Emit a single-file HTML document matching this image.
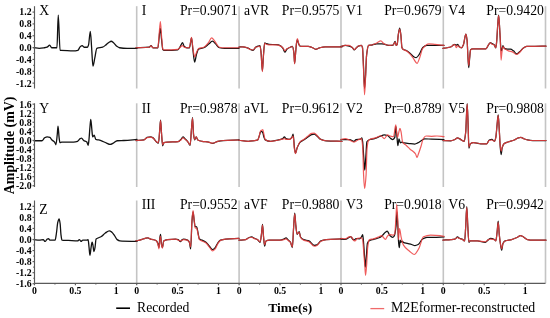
<!DOCTYPE html>
<html><head><meta charset="utf-8"><title>ECG reconstruction</title>
<style>
html,body{margin:0;padding:0;background:#fff;}
body{width:550px;height:318px;overflow:hidden;}
svg{display:block;}
text{font-family:"Liberation Serif","Times New Roman",serif;fill:#000;}
.lab{font-size:13.7px;}
.tk{font-size:9.8px;font-weight:bold;}
.ax{font-size:13.5px;font-weight:bold;}
</style></head><body>
<svg width="550" height="318" viewBox="0 0 550 318">
<rect width="550" height="318" fill="#fff"/>
<g stroke="#c4c4c4" stroke-width="1.6" fill="none">
<line x1="136.7" y1="6.2" x2="136.7" y2="88.5"/>
<line x1="239.1" y1="6.2" x2="239.1" y2="88.5"/>
<line x1="341.0" y1="6.2" x2="341.0" y2="88.5"/>
<line x1="443.3" y1="6.2" x2="443.3" y2="88.5"/>
<line x1="545.5" y1="6.2" x2="545.5" y2="88.5"/>
<line x1="136.7" y1="103.3" x2="136.7" y2="187.0"/>
<line x1="239.1" y1="103.3" x2="239.1" y2="187.0"/>
<line x1="341.0" y1="103.3" x2="341.0" y2="187.0"/>
<line x1="443.3" y1="103.3" x2="443.3" y2="187.0"/>
<line x1="545.5" y1="103.3" x2="545.5" y2="187.0"/>
<line x1="136.7" y1="200.5" x2="136.7" y2="283.3"/>
<line x1="239.1" y1="200.5" x2="239.1" y2="283.3"/>
<line x1="341.0" y1="200.5" x2="341.0" y2="283.3"/>
<line x1="443.3" y1="200.5" x2="443.3" y2="283.3"/>
<line x1="545.5" y1="200.5" x2="545.5" y2="283.3"/>
</g>
<g fill="none" stroke-linejoin="round" stroke-linecap="round">
<path d="M34.00,47.76 C35.74,47.94 37.48,48.28 39.22,48.28 C40.95,48.28 42.69,48.00 44.43,47.76 C45.30,47.64 46.17,47.52 47.04,47.24 C47.91,46.96 48.78,45.15 49.65,45.15 C50.34,45.15 51.04,47.76 51.73,47.76 C52.77,47.76 53.82,47.76 54.86,47.76 C55.56,47.76 56.25,47.76 56.95,47.76 C57.38,47.76 57.82,15.14 58.25,15.14 C58.86,15.14 59.47,50.37 60.08,50.37 C60.51,50.37 60.95,50.37 61.38,50.37 C65.29,50.37 69.20,50.89 73.11,50.89 C74.68,50.89 76.24,50.72 77.81,50.37 C78.68,50.17 79.55,47.02 80.42,46.46 C81.02,46.06 81.63,45.67 82.24,45.67 C82.85,45.67 83.46,47.24 84.07,47.24 C85.20,47.24 86.33,47.24 87.46,47.24 C87.80,47.24 88.15,46.20 88.50,45.15 C89.11,43.32 89.72,31.32 90.32,31.32 C90.76,31.32 91.19,41.99 91.63,47.76 C92.06,53.53 92.50,66.03 92.93,66.03 C93.54,66.03 94.15,60.94 94.76,58.20 C95.45,55.07 96.15,48.57 96.84,48.28 C98.76,47.50 100.67,47.82 102.58,47.24 C103.88,46.84 105.19,45.37 106.49,44.37 C107.36,43.70 108.23,42.81 109.10,42.28 C109.79,41.86 110.49,41.24 111.18,41.24 C111.97,41.24 112.75,42.16 113.53,42.80 C114.57,43.65 115.62,45.44 116.66,46.19 C117.62,46.89 118.57,47.63 119.53,47.76 C122.05,48.11 124.57,48.28 127.09,48.28 C130.39,48.28 133.70,48.28 137.00,48.28" stroke="#111" stroke-width="1.3"/>
<path d="M136.00,47.76 C140.35,47.59 144.69,47.66 149.04,47.24 C149.73,47.17 150.43,45.67 151.12,45.67 C151.73,45.67 152.34,47.76 152.95,47.76 C154.60,47.76 156.25,47.76 157.90,47.76 C158.25,47.76 158.60,42.29 158.95,39.41 C159.38,35.81 159.82,28.19 160.25,28.19 C160.69,28.19 161.12,35.85 161.55,39.41 C161.99,42.97 162.42,49.10 162.86,49.59 C163.29,50.07 163.73,50.37 164.16,50.37 C168.68,50.37 173.20,50.28 177.72,49.85 C178.59,49.77 179.46,47.80 180.33,46.46 C181.02,45.38 181.72,42.54 182.42,42.54 C183.02,42.54 183.63,45.94 184.24,46.46 C185.11,47.19 185.98,47.76 186.85,47.76 C187.72,47.76 188.59,47.76 189.46,47.76 C190.15,47.76 190.85,37.84 191.54,37.84 C191.98,37.84 192.41,45.65 192.85,49.07 C193.45,53.84 194.06,62.12 194.67,62.12 C195.28,62.12 195.89,56.22 196.50,54.29 C197.19,52.08 197.89,49.42 198.58,49.07 C200.32,48.17 202.06,48.41 203.80,47.76 C205.54,47.11 207.27,45.17 209.01,43.85 C210.14,42.99 211.27,41.24 212.40,41.24 C213.45,41.24 214.49,42.90 215.53,43.85 C216.84,45.03 218.14,47.51 219.44,47.76 C221.18,48.09 222.92,48.28 224.66,48.28 C229.44,48.28 234.22,48.28 239.00,48.28" stroke="#111" stroke-width="1.25"/>
<path d="M136.00,47.76 C140.35,47.59 144.69,47.65 149.04,47.24 C149.73,47.17 150.43,45.93 151.12,45.93 C151.73,45.93 152.34,47.76 152.95,47.76 C154.60,47.76 156.25,47.76 157.90,47.76 C158.25,47.76 158.60,40.46 158.95,36.80 C159.42,31.76 159.90,21.66 160.38,21.66 C160.82,21.66 161.25,33.16 161.68,37.84 C162.08,42.06 162.47,48.62 162.86,49.07 C163.29,49.56 163.73,49.85 164.16,49.85 C168.68,49.85 173.20,49.74 177.72,49.33 C178.59,49.25 179.46,47.91 180.33,47.24 C181.02,46.70 181.72,45.67 182.42,45.67 C183.02,45.67 183.63,47.03 184.24,47.24 C185.11,47.53 185.98,47.76 186.85,47.76 C187.72,47.76 188.59,47.58 189.46,47.24 C190.15,46.96 190.85,37.32 191.54,37.32 C191.98,37.32 192.41,45.05 192.85,47.76 C193.45,51.56 194.06,56.90 194.67,56.90 C195.28,56.90 195.89,53.75 196.50,52.46 C197.19,50.98 197.89,48.89 198.58,48.54 C200.32,47.68 202.06,47.94 203.80,47.24 C205.36,46.61 206.93,44.45 208.49,42.54 C209.53,41.27 210.58,37.84 211.62,37.84 C212.66,37.84 213.71,40.02 214.75,41.24 C216.31,43.06 217.88,46.94 219.44,47.24 C221.18,47.57 222.92,47.76 224.66,47.76 C229.44,47.76 234.22,47.76 239.00,47.76" stroke="#ec4040" stroke-opacity="0.85" stroke-width="1.2"/>
<path d="M239.00,47.06 C240.23,47.00 241.47,46.87 242.70,46.87 C244.27,46.87 245.83,47.32 247.40,47.79 C248.34,48.06 249.27,48.88 250.21,49.27 C251.14,49.67 252.07,50.27 253.00,50.27 C253.97,50.27 254.93,47.60 255.90,47.06 C256.83,46.53 257.76,46.31 258.69,45.99 C259.12,45.84 259.56,45.57 259.99,45.57 C260.36,45.57 260.74,49.72 261.11,53.09 C261.54,56.92 261.96,70.99 262.39,70.99 C262.76,70.99 263.12,59.38 263.49,54.99 C263.89,50.19 264.28,42.80 264.68,42.80 C265.19,42.80 265.69,43.52 266.20,43.69 C267.13,44.00 268.06,44.20 268.99,44.29 C271.49,44.53 273.99,44.47 276.50,44.71 C277.73,44.83 278.97,45.09 280.20,45.57 C281.13,45.93 282.06,47.11 282.99,48.39 C283.62,49.26 284.26,52.20 284.89,52.20 C285.53,52.20 286.16,49.87 286.80,49.27 C287.73,48.41 288.66,47.91 289.59,47.47 C290.53,47.04 291.46,46.46 292.40,46.46 C292.91,46.46 293.41,49.40 293.92,53.09 C294.14,54.74 294.37,63.40 294.59,63.40 C294.92,63.40 295.25,56.45 295.58,53.09 C295.96,49.27 296.33,43.66 296.71,41.89 C296.94,40.78 297.18,39.59 297.41,39.59 C297.81,39.59 298.21,42.76 298.61,43.69 C299.04,44.70 299.48,45.84 299.91,45.99 C300.84,46.30 301.77,46.46 302.70,46.46 C304.57,46.46 306.44,46.46 308.31,46.46 C309.54,46.46 310.78,47.05 312.01,47.47 C313.28,47.91 314.55,49.27 315.82,49.27 C317.05,49.27 318.29,48.08 319.52,47.79 C321.39,47.34 323.26,46.87 325.13,46.87 C330.75,46.87 336.38,46.87 342.00,46.87" stroke="#111" stroke-width="1.25"/>
<path d="M239.00,47.06 C240.23,47.00 241.47,46.87 242.70,46.87 C244.27,46.87 245.83,47.30 247.40,47.79 C248.34,48.08 249.27,49.29 250.21,49.54 C251.14,49.78 252.07,50.01 253.00,50.01 C253.97,50.01 254.93,47.37 255.90,47.06 C256.83,46.75 257.76,46.74 258.69,46.51 C259.12,46.40 259.56,46.09 259.99,46.09 C260.36,46.09 260.74,50.23 261.11,53.61 C261.54,57.46 261.96,71.77 262.39,71.77 C262.76,71.77 263.12,59.35 263.49,54.99 C263.89,50.22 264.28,43.32 264.68,43.32 C265.19,43.32 265.69,44.04 266.20,44.21 C267.13,44.52 268.06,44.77 268.99,44.81 C271.49,44.92 273.99,44.86 276.50,44.97 C277.73,45.02 278.97,45.38 280.20,45.83 C281.13,46.17 282.06,46.91 282.99,47.87 C283.62,48.52 284.26,50.89 284.89,50.89 C285.53,50.89 286.16,49.18 286.80,48.75 C287.73,48.13 288.66,47.79 289.59,47.47 C290.53,47.16 291.46,46.72 292.40,46.72 C292.91,46.72 293.41,49.46 293.92,53.09 C294.14,54.71 294.37,63.92 294.59,63.92 C294.92,63.92 295.25,56.62 295.58,53.09 C295.96,49.09 296.33,43.46 296.71,41.37 C296.94,40.05 297.18,38.55 297.41,38.55 C297.81,38.55 298.21,42.06 298.61,43.17 C299.04,44.38 299.48,45.83 299.91,45.99 C300.84,46.31 301.77,46.46 302.70,46.46 C304.57,46.46 306.44,46.46 308.31,46.46 C309.54,46.46 310.78,47.05 312.01,47.47 C313.28,47.91 314.55,49.27 315.82,49.27 C317.05,49.27 318.29,48.08 319.52,47.79 C321.39,47.34 323.26,46.87 325.13,46.87 C330.75,46.87 336.38,46.87 342.00,46.87" stroke="#ec4040" stroke-opacity="0.85" stroke-width="1.2"/>
<path d="M341.00,46.46 C342.36,46.11 343.73,45.41 345.09,45.41 C346.46,45.41 347.82,45.72 349.19,46.04 C350.20,46.28 351.22,46.76 352.24,47.47 C352.92,47.95 353.59,49.93 354.27,49.93 C354.75,49.93 355.23,48.95 355.71,48.49 C356.59,47.64 357.48,46.34 358.37,46.04 C359.39,45.69 360.42,45.41 361.44,45.41 C361.78,45.41 362.12,46.24 362.46,47.47 C362.80,48.71 363.14,59.09 363.48,65.85 C363.82,72.61 364.16,88.48 364.49,88.48 C364.84,88.48 365.19,81.28 365.54,76.08 C365.88,71.01 366.22,58.57 366.55,55.64 C367.23,49.80 367.91,45.59 368.59,45.41 C369.61,45.14 370.64,45.19 371.67,45.02 C373.37,44.74 375.07,43.79 376.78,43.79 C378.48,43.79 380.18,43.79 381.89,43.79 C382.90,43.79 383.92,44.15 384.94,44.39 C385.62,44.56 386.31,44.89 387.00,45.02 C388.01,45.21 389.03,45.41 390.05,45.41 C391.07,45.41 392.10,45.28 393.13,45.02 C393.80,44.85 394.48,41.34 395.16,41.34 C395.50,41.34 395.84,45.41 396.18,45.41 C396.52,45.41 396.85,45.00 397.19,44.39 C397.54,43.77 397.89,37.45 398.24,35.21 C398.71,32.12 399.19,28.06 399.67,28.06 C400.08,28.06 400.49,31.96 400.90,35.21 C401.24,37.90 401.57,46.57 401.91,47.47 C402.39,48.75 402.87,49.23 403.35,49.51 C404.36,50.10 405.38,50.07 406.40,50.53 C407.76,51.15 409.13,52.43 410.49,53.61 C411.51,54.49 412.53,56.10 413.54,56.66 C414.43,57.15 415.32,57.68 416.20,57.68 C417.37,57.68 418.53,55.34 419.70,53.61 C420.71,52.10 421.73,48.32 422.75,47.47 C424.11,46.34 425.48,45.41 426.84,45.41 C432.56,45.41 438.28,45.41 444.00,45.41" stroke="#111" stroke-width="1.25"/>
<path d="M341.00,46.46 C342.36,46.11 343.73,45.41 345.09,45.41 C346.46,45.41 347.82,45.41 349.19,45.41 C350.20,45.41 351.22,46.63 352.24,47.47 C352.92,48.04 353.59,49.59 354.27,49.59 C354.75,49.59 355.23,48.89 355.71,48.49 C356.59,47.76 357.48,46.34 358.37,46.04 C359.39,45.69 360.42,45.41 361.44,45.41 C361.78,45.41 362.12,46.22 362.46,47.47 C362.80,48.72 363.14,60.54 363.48,68.12 C363.83,76.08 364.19,94.74 364.55,94.74 C364.89,94.74 365.24,83.69 365.59,76.99 C365.91,70.80 366.23,58.49 366.55,55.64 C367.23,49.64 367.91,45.59 368.59,45.41 C369.61,45.14 370.64,45.21 371.67,45.02 C373.37,44.71 375.07,43.75 376.78,42.98 C378.13,42.38 379.49,40.92 380.84,40.92 C381.87,40.92 382.90,43.22 383.92,43.79 C384.95,44.37 385.97,44.82 387.00,45.02 C388.01,45.22 389.03,45.41 390.05,45.41 C391.07,45.41 392.10,45.28 393.13,45.02 C393.80,44.85 394.48,42.02 395.16,42.02 C395.50,42.02 395.84,45.41 396.18,45.41 C396.52,45.41 396.85,45.00 397.19,44.39 C397.54,43.77 397.89,37.25 398.24,35.21 C398.71,32.40 399.19,29.07 399.67,29.07 C400.08,29.07 400.49,32.28 400.90,35.21 C401.24,37.64 401.57,46.57 401.91,47.47 C402.39,48.75 402.87,49.16 403.35,49.51 C404.36,50.25 405.38,50.29 406.40,50.89 C407.76,51.70 409.13,53.06 410.49,54.55 C411.51,55.66 412.53,57.34 413.54,58.72 C414.71,60.30 415.87,63.42 417.04,63.42 C417.92,63.42 418.81,59.90 419.70,57.68 C420.71,55.13 421.73,49.82 422.75,48.49 C424.79,45.82 426.83,43.79 428.88,43.79 C430.92,43.79 432.96,44.18 435.00,44.39 C438.00,44.71 441.00,45.07 444.00,45.41" stroke="#ec4040" stroke-opacity="0.85" stroke-width="1.2"/>
<path d="M443.00,48.36 C444.36,48.16 445.73,48.01 447.09,47.76 C448.46,47.51 449.82,47.29 451.19,46.74 C451.87,46.47 452.54,45.51 453.22,45.10 C453.77,44.77 454.32,44.29 454.86,44.29 C455.33,44.29 455.80,45.10 456.27,45.10 C456.75,45.10 457.23,44.29 457.71,44.29 C458.25,44.29 458.80,46.33 459.35,46.74 C460.03,47.26 460.71,47.76 461.38,47.76 C462.07,47.76 462.76,46.29 463.44,44.68 C463.99,43.40 464.54,38.52 465.09,36.51 C465.36,35.52 465.63,34.06 465.89,34.06 C466.30,34.06 466.71,37.01 467.12,40.61 C467.39,42.98 467.66,52.73 467.93,56.95 C468.21,61.30 468.48,67.57 468.76,67.57 C469.03,67.57 469.30,61.62 469.57,58.98 C469.91,55.66 470.25,50.15 470.59,49.80 C471.28,49.08 471.96,48.78 472.65,48.78 C477.07,48.78 481.50,48.78 485.92,48.78 C486.74,48.78 487.56,46.19 488.37,45.10 C489.05,44.19 489.73,42.65 490.41,42.65 C490.95,42.65 491.50,43.36 492.05,43.66 C492.74,44.04 493.42,44.13 494.11,44.68 C494.65,45.11 495.19,47.76 495.73,47.76 C496.00,47.76 496.28,45.00 496.56,42.65 C496.97,39.18 497.38,29.51 497.79,24.27 C498.06,20.81 498.32,15.06 498.59,15.06 C498.86,15.06 499.13,20.59 499.40,24.27 C499.68,28.07 499.96,34.08 500.24,38.55 C500.51,42.88 500.78,50.81 501.05,50.81 C501.31,50.81 501.58,50.30 501.85,49.80 C502.20,49.15 502.55,45.70 502.90,45.70 C503.37,45.70 503.84,48.12 504.30,48.36 C505.33,48.90 506.36,49.20 507.38,49.20 C508.41,49.20 509.43,49.20 510.46,49.20 C511.48,49.20 512.49,50.11 513.51,50.81 C514.54,51.53 515.56,53.89 516.59,53.89 C517.60,53.89 518.62,52.64 519.64,51.83 C521.00,50.74 522.37,48.61 523.73,47.76 C524.76,47.12 525.78,46.33 526.81,46.33 C529.53,46.33 532.25,46.33 534.97,46.33 C538.65,46.33 542.32,46.19 546.00,46.12" stroke="#111" stroke-width="1.25"/>
<path d="M443.00,48.36 C444.36,48.16 445.73,48.01 447.09,47.76 C448.46,47.51 449.82,47.29 451.19,46.74 C451.87,46.47 452.54,45.38 453.22,45.10 C453.77,44.87 454.32,44.63 454.86,44.63 C455.33,44.63 455.80,47.76 456.27,47.76 C456.75,47.76 457.23,45.70 457.71,45.70 C458.25,45.70 458.80,46.69 459.35,46.98 C460.03,47.33 460.71,47.76 461.38,47.76 C462.07,47.76 462.76,46.29 463.44,44.68 C463.99,43.40 464.54,38.52 465.09,36.51 C465.36,35.52 465.63,34.06 465.89,34.06 C466.30,34.06 466.71,37.01 467.12,40.61 C467.39,42.98 467.66,53.27 467.93,56.95 C468.21,60.74 468.48,65.51 468.76,65.51 C469.03,65.51 469.30,60.53 469.57,58.20 C469.91,55.27 470.25,50.15 470.59,49.80 C471.28,49.09 471.96,48.78 472.65,48.78 C477.07,48.78 481.50,48.78 485.92,48.78 C486.74,48.78 487.56,45.81 488.37,44.84 C489.05,44.03 489.73,42.91 490.41,42.91 C490.95,42.91 491.50,43.91 492.05,44.19 C492.74,44.53 493.42,44.51 494.11,44.94 C494.65,45.28 495.19,47.76 495.73,47.76 C496.00,47.76 496.28,45.00 496.56,42.65 C496.97,39.18 497.38,29.30 497.79,24.27 C498.06,20.95 498.32,15.66 498.59,15.66 C498.86,15.66 499.13,20.74 499.40,24.27 C499.68,27.92 499.96,32.75 500.24,38.55 C500.51,44.16 500.78,60.03 501.05,60.03 C501.31,60.03 501.58,54.77 501.85,52.85 C502.20,50.37 502.55,46.72 502.90,46.72 C503.37,46.72 503.84,47.97 504.30,48.36 C505.67,49.50 507.03,50.34 508.40,50.81 C509.76,51.29 511.13,51.34 512.49,51.83 C513.86,52.32 515.22,54.49 516.59,54.49 C517.60,54.49 518.62,53.31 519.64,52.46 C521.00,51.32 522.37,48.65 523.73,47.76 C524.76,47.09 525.78,46.33 526.81,46.33 C529.53,46.33 532.25,46.33 534.97,46.33 C538.65,46.33 542.32,46.19 546.00,46.12" stroke="#ec4040" stroke-opacity="0.85" stroke-width="1.2"/>
<path d="M34.00,140.77 C36.64,140.77 39.28,140.77 41.92,140.77 C42.80,140.77 43.68,138.38 44.56,137.87 C45.44,137.35 46.32,136.81 47.21,136.81 C48.09,136.81 48.97,137.03 49.85,137.34 C50.55,137.59 51.25,139.29 51.96,139.98 C52.84,140.85 53.72,141.04 54.60,142.09 C55.04,142.62 55.48,144.74 55.92,144.74 C56.36,144.74 56.80,138.66 57.24,134.70 C57.51,132.32 57.77,126.25 58.03,126.25 C58.39,126.25 58.74,134.50 59.09,137.34 C59.35,139.47 59.62,142.62 59.88,142.62 C60.50,142.62 61.11,142.09 61.73,142.09 C65.69,142.09 69.65,142.09 73.62,142.09 C74.94,142.09 76.26,141.76 77.58,141.30 C78.46,140.99 79.34,139.14 80.22,138.66 C80.66,138.42 81.10,138.13 81.54,138.13 C82.24,138.13 82.95,140.01 83.65,140.51 C84.71,141.26 85.76,141.13 86.82,142.09 C87.26,142.49 87.70,145.26 88.14,145.26 C88.41,145.26 88.67,142.25 88.93,139.98 C89.29,136.96 89.64,130.51 89.99,126.77 C90.25,123.97 90.52,119.38 90.78,119.38 C91.13,119.38 91.49,126.10 91.84,129.42 C92.10,131.90 92.37,136.81 92.63,136.81 C93.16,136.81 93.69,135.23 94.22,135.23 C94.74,135.23 95.27,139.26 95.80,139.45 C96.77,139.81 97.74,139.76 98.71,139.98 C100.03,140.29 101.35,140.79 102.67,141.30 C103.99,141.82 105.31,142.60 106.63,143.15 C107.77,143.63 108.92,144.47 110.06,144.47 C111.12,144.47 112.17,143.67 113.23,143.15 C114.55,142.51 115.87,140.88 117.19,140.77 C119.39,140.60 121.59,140.62 123.79,140.51 C128.20,140.28 132.60,139.81 137.00,139.45" stroke="#111" stroke-width="1.3"/>
<path d="M136.00,140.51 C138.64,140.33 141.28,140.35 143.92,139.98 C144.98,139.83 146.04,137.62 147.09,137.34 C148.24,137.04 149.38,136.81 150.53,136.81 C151.41,136.81 152.29,137.33 153.17,137.87 C154.05,138.41 154.93,140.50 155.81,141.30 C156.69,142.10 157.57,143.15 158.45,143.15 C158.89,143.15 159.33,134.28 159.77,129.42 C160.03,126.50 160.30,120.17 160.56,120.17 C160.91,120.17 161.27,130.50 161.62,134.70 C161.97,138.89 162.32,145.79 162.67,145.79 C163.11,145.79 163.55,142.76 163.99,142.62 C165.23,142.24 166.46,142.19 167.69,142.09 C171.21,141.81 174.74,141.97 178.26,141.57 C179.14,141.47 180.02,140.32 180.90,139.45 C181.60,138.76 182.31,136.81 183.01,136.81 C183.63,136.81 184.24,138.04 184.86,138.66 C185.74,139.54 186.62,140.25 187.50,141.30 C188.38,142.36 189.26,145.26 190.14,145.26 C190.58,145.26 191.02,134.52 191.46,129.42 C191.81,125.33 192.17,117.53 192.52,117.53 C192.87,117.53 193.22,132.00 193.57,134.70 C193.93,137.39 194.28,139.98 194.63,139.98 C195.16,139.98 195.69,136.81 196.22,136.81 C196.74,136.81 197.27,139.66 197.80,139.98 C199.21,140.84 200.62,141.05 202.03,141.30 C204.23,141.70 206.43,141.69 208.63,142.09 C209.95,142.34 211.27,143.42 212.59,143.42 C214.35,143.42 216.11,141.69 217.87,141.30 C219.63,140.92 221.39,140.62 223.15,140.51 C228.44,140.19 233.72,140.16 239.00,139.98" stroke="#111" stroke-width="1.25"/>
<path d="M136.00,140.51 C138.64,140.33 141.28,140.35 143.92,139.98 C144.98,139.83 146.04,137.88 147.09,137.60 C148.24,137.31 149.38,137.08 150.53,137.08 C151.41,137.08 152.29,137.60 153.17,138.13 C154.05,138.66 154.93,140.68 155.81,141.30 C156.69,141.92 157.57,142.62 158.45,142.62 C158.89,142.62 159.33,134.05 159.77,129.42 C160.03,126.64 160.30,120.70 160.56,120.70 C160.91,120.70 161.27,130.80 161.62,134.70 C161.97,138.60 162.32,144.74 162.67,144.74 C163.11,144.74 163.55,142.76 163.99,142.62 C165.23,142.25 166.46,142.19 167.69,142.09 C171.21,141.81 174.74,141.96 178.26,141.57 C179.14,141.47 180.02,140.65 180.90,139.98 C181.60,139.45 182.31,137.87 183.01,137.87 C183.63,137.87 184.24,138.73 184.86,139.19 C185.74,139.85 186.62,140.43 187.50,141.30 C188.38,142.17 189.26,144.74 190.14,144.74 C190.58,144.74 191.02,134.32 191.46,129.42 C191.81,125.49 192.17,118.06 192.52,118.06 C192.87,118.06 193.22,132.23 193.57,134.70 C193.93,137.16 194.28,139.45 194.63,139.45 C195.16,139.45 195.69,136.81 196.22,136.81 C196.74,136.81 197.27,139.66 197.80,139.98 C199.21,140.84 200.62,141.05 202.03,141.30 C204.23,141.70 206.43,141.72 208.63,142.09 C209.95,142.32 211.27,143.15 212.59,143.15 C214.35,143.15 216.11,141.67 217.87,141.30 C219.63,140.93 221.39,140.62 223.15,140.51 C228.44,140.19 233.72,140.16 239.00,139.98" stroke="#ec4040" stroke-opacity="0.85" stroke-width="1.2"/>
<path d="M239.00,140.25 C242.08,140.60 245.16,141.30 248.24,141.30 C249.83,141.30 251.41,141.00 253.00,140.77 C254.58,140.55 256.17,140.52 257.75,139.85 C258.24,139.64 258.74,137.49 259.23,136.10 C259.66,134.88 260.09,132.30 260.52,131.98 C260.96,131.65 261.40,131.42 261.84,131.42 C262.22,131.42 262.60,132.38 262.98,133.27 C263.29,134.00 263.60,136.14 263.90,137.02 C264.35,138.28 264.79,139.60 265.23,139.85 C267.05,140.87 268.87,141.30 270.69,141.30 C273.33,141.30 275.97,140.59 278.62,139.98 C279.94,139.68 281.26,139.36 282.58,138.66 C283.19,138.33 283.81,136.81 284.43,136.81 C284.95,136.81 285.48,138.43 286.01,138.66 C287.07,139.13 288.12,139.45 289.18,139.45 C290.06,139.45 290.94,138.46 291.82,137.34 C292.26,136.78 292.70,134.17 293.14,134.17 C293.58,134.17 294.02,144.97 294.46,147.91 C294.81,150.25 295.17,153.19 295.52,153.19 C296.05,153.19 296.57,149.20 297.10,147.91 C298.16,145.32 299.22,143.07 300.27,142.09 C301.42,141.03 302.56,140.71 303.71,139.98 C305.03,139.14 306.35,138.22 307.67,137.34 C308.99,136.46 310.31,135.09 311.63,134.70 C312.51,134.44 313.39,134.17 314.27,134.17 C315.15,134.17 316.03,135.34 316.91,136.02 C318.23,137.03 319.55,138.93 320.87,139.45 C322.63,140.15 324.39,140.65 326.15,140.77 C331.44,141.13 336.72,141.13 342.00,141.30" stroke="#111" stroke-width="1.25"/>
<path d="M239.00,140.25 C242.08,140.60 245.16,141.30 248.24,141.30 C249.83,141.30 251.41,141.00 253.00,140.77 C254.58,140.55 256.17,140.52 257.75,139.85 C258.24,139.64 258.74,137.65 259.23,136.10 C259.66,134.74 260.09,131.21 260.52,130.84 C260.96,130.46 261.40,130.46 261.84,130.21 C262.15,130.03 262.46,129.55 262.77,129.55 C263.15,129.55 263.53,132.64 263.90,134.22 C264.35,136.07 264.79,139.58 265.23,139.85 C267.05,140.96 268.87,141.30 270.69,141.30 C273.33,141.30 275.97,140.47 278.62,139.98 C279.94,139.74 281.26,139.51 282.58,139.19 C283.19,139.04 283.81,138.66 284.43,138.66 C284.95,138.66 285.48,139.45 286.01,139.45 C287.07,139.45 288.12,139.45 289.18,139.45 C290.06,139.45 290.94,138.64 291.82,137.87 C292.26,137.48 292.70,136.02 293.14,136.02 C293.58,136.02 294.02,146.64 294.46,149.23 C294.81,151.30 295.17,153.72 295.52,153.72 C296.05,153.72 296.57,149.32 297.10,147.91 C298.16,145.08 299.22,142.57 300.27,141.57 C301.42,140.48 302.56,140.25 303.71,139.45 C305.03,138.54 306.35,137.29 307.67,136.28 C308.99,135.27 310.31,133.60 311.63,133.38 C312.51,133.23 313.39,133.11 314.27,133.11 C315.15,133.11 316.03,134.43 316.91,135.23 C318.23,136.42 319.55,138.90 320.87,139.45 C322.63,140.19 324.39,140.65 326.15,140.77 C331.44,141.13 336.72,141.13 342.00,141.30" stroke="#ec4040" stroke-opacity="0.85" stroke-width="1.2"/>
<path d="M341.00,139.72 C343.91,139.72 346.81,139.72 349.72,139.72 C351.12,139.72 352.53,141.30 353.94,141.30 C354.65,141.30 355.35,139.88 356.05,139.72 C357.46,139.39 358.87,139.53 360.28,139.19 C360.81,139.06 361.34,137.87 361.86,137.87 C362.13,137.87 362.39,139.92 362.66,141.83 C363.01,144.38 363.36,152.20 363.71,156.89 C364.06,161.58 364.42,170.09 364.77,170.09 C365.12,170.09 365.47,161.58 365.83,156.89 C366.18,152.20 366.53,142.49 366.88,141.83 C367.67,140.33 368.47,140.00 369.26,139.72 C371.02,139.09 372.78,139.14 374.54,138.66 C376.39,138.16 378.24,136.95 380.09,136.28 C381.50,135.78 382.90,134.96 384.31,134.96 C385.37,134.96 386.43,135.19 387.48,135.49 C388.63,135.81 389.77,137.98 390.92,138.66 C391.53,139.02 392.15,139.51 392.76,139.51 C393.44,139.51 394.12,138.81 394.80,137.39 C395.13,136.69 395.47,126.30 395.80,126.30 C396.16,126.30 396.52,132.63 396.88,135.99 C397.22,139.11 397.55,145.71 397.89,145.71 C398.26,145.71 398.63,138.79 399.00,138.79 C399.46,138.79 399.93,142.91 400.40,142.91 C400.86,142.91 401.33,142.20 401.80,142.20 C402.49,142.20 403.19,142.78 403.88,142.91 C405.72,143.27 407.56,143.43 409.40,143.60 C411.23,143.77 413.06,144.00 414.90,144.00 C415.83,144.00 416.76,143.36 417.70,142.91 C419.10,142.25 420.49,140.99 421.89,140.19 C422.79,139.68 423.69,138.79 424.59,138.79 C426.92,138.79 429.25,139.10 431.59,139.19 C435.72,139.34 439.86,139.40 444.00,139.51" stroke="#111" stroke-width="1.25"/>
<path d="M341.00,139.35 C342.41,139.12 343.82,138.66 345.23,138.66 C346.72,138.66 348.22,139.66 349.72,140.25 C351.12,140.80 352.53,142.09 353.94,142.09 C355.44,142.09 356.93,140.32 358.43,139.72 C359.49,139.29 360.54,138.66 361.60,138.66 C362.00,138.66 362.39,143.48 362.79,149.23 C363.05,153.05 363.32,169.85 363.58,174.85 C363.93,181.52 364.29,188.58 364.64,188.58 C365.12,188.58 365.61,181.93 366.09,174.85 C366.40,170.34 366.71,152.63 367.01,149.23 C367.41,144.86 367.81,142.26 368.20,141.30 C368.55,140.45 368.91,139.92 369.26,139.72 C371.37,138.49 373.48,138.58 375.60,137.87 C377.36,137.27 379.12,135.75 380.88,135.75 C382.02,135.75 383.17,138.66 384.31,138.66 C385.37,138.66 386.43,134.96 387.48,134.96 C388.32,134.96 389.15,135.79 389.99,136.02 C391.16,136.34 392.33,136.71 393.50,136.71 C394.27,136.71 395.04,124.90 395.80,124.90 C396.16,124.90 396.52,132.67 396.88,134.59 C397.12,135.86 397.36,137.39 397.60,137.39 C397.93,137.39 398.27,134.46 398.60,133.19 C399.07,131.43 399.53,128.41 400.00,128.41 C400.36,128.41 400.72,130.34 401.08,131.90 C401.55,133.91 402.02,140.37 402.48,141.51 C402.95,142.66 403.42,143.11 403.88,143.60 C404.79,144.56 405.70,144.92 406.60,145.71 C407.77,146.72 408.93,148.24 410.09,149.20 C411.02,149.97 411.96,150.41 412.89,151.21 C413.79,151.97 414.68,152.63 415.58,154.01 C416.05,154.72 416.52,157.49 416.98,157.49 C417.45,157.49 417.92,155.26 418.38,154.01 C419.32,151.51 420.25,148.70 421.18,145.71 C421.85,143.57 422.52,139.85 423.19,138.79 C424.12,137.31 425.06,136.02 425.99,136.02 C427.85,136.02 429.72,136.28 431.59,136.28 C433.39,136.28 435.20,136.02 437.00,136.02 C439.33,136.02 441.67,136.48 444.00,136.71" stroke="#ec4040" stroke-opacity="0.85" stroke-width="1.2"/>
<path d="M443.00,140.51 C445.64,140.60 448.28,140.77 450.92,140.77 C452.24,140.77 453.56,140.03 454.88,139.45 C455.76,139.07 456.65,137.87 457.53,137.87 C458.14,137.87 458.76,138.35 459.37,138.66 C460.08,139.02 460.78,139.59 461.49,139.98 C462.37,140.47 463.25,141.30 464.13,141.30 C464.66,141.30 465.18,136.85 465.71,132.06 C466.20,127.67 466.68,103.53 467.17,103.53 C467.47,103.53 467.78,116.18 468.09,124.13 C468.35,130.95 468.62,148.17 468.88,148.17 C469.32,148.17 469.76,144.31 470.20,143.94 C471.26,143.07 472.32,142.62 473.37,142.62 C476.45,142.62 479.53,143.94 482.62,143.94 C483.94,143.94 485.26,143.94 486.58,143.94 C487.46,143.94 488.34,140.29 489.22,139.98 C490.10,139.67 490.98,139.45 491.86,139.45 C492.74,139.45 493.62,141.30 494.50,141.30 C494.94,141.30 495.38,139.37 495.82,137.34 C496.26,135.31 496.70,128.23 497.14,124.13 C497.49,120.85 497.85,114.89 498.20,114.89 C498.55,114.89 498.90,123.99 499.25,129.42 C499.61,134.84 499.96,144.00 500.31,147.91 C500.57,150.84 500.84,154.51 501.10,154.51 C501.45,154.51 501.81,149.20 502.16,147.91 C502.69,145.96 503.22,144.40 503.74,143.94 C505.06,142.79 506.38,142.60 507.71,142.09 C509.91,141.25 512.11,140.88 514.31,139.98 C515.63,139.44 516.95,138.24 518.27,137.87 C519.15,137.62 520.03,137.34 520.91,137.34 C521.79,137.34 522.67,138.30 523.55,138.66 C524.87,139.20 526.19,139.77 527.51,139.98 C529.27,140.26 531.03,140.51 532.79,140.51 C537.20,140.51 541.60,140.51 546.00,140.51" stroke="#111" stroke-width="1.25"/>
<path d="M443.00,140.51 C445.64,140.60 448.28,140.77 450.92,140.77 C452.24,140.77 453.56,140.03 454.88,139.45 C455.76,139.07 456.65,137.87 457.53,137.87 C458.14,137.87 458.76,138.35 459.37,138.66 C460.08,139.02 460.78,139.59 461.49,139.98 C462.37,140.47 463.25,141.30 464.13,141.30 C464.66,141.30 465.18,136.83 465.71,132.06 C466.20,127.69 466.68,104.06 467.17,104.06 C467.47,104.06 467.78,116.49 468.09,124.13 C468.35,130.68 468.62,146.85 468.88,146.85 C469.32,146.85 469.76,144.28 470.20,143.94 C471.26,143.13 472.32,142.62 473.37,142.62 C476.45,142.62 479.53,143.94 482.62,143.94 C483.94,143.94 485.26,143.94 486.58,143.94 C487.46,143.94 488.34,140.81 489.22,140.51 C490.10,140.20 490.98,139.98 491.86,139.98 C492.74,139.98 493.62,141.30 494.50,141.30 C494.94,141.30 495.38,139.37 495.82,137.34 C496.26,135.31 496.70,128.03 497.14,124.13 C497.49,121.01 497.85,115.68 498.20,115.68 C498.55,115.68 498.90,124.33 499.25,129.42 C499.61,134.50 499.96,143.69 500.31,146.58 C500.57,148.75 500.84,151.08 501.10,151.08 C501.45,151.08 501.81,148.34 502.16,147.38 C502.69,145.94 503.22,144.39 503.74,143.94 C505.06,142.83 506.38,142.60 507.71,142.09 C509.91,141.25 512.11,140.88 514.31,139.98 C515.63,139.44 516.95,138.24 518.27,137.87 C519.15,137.62 520.03,137.34 520.91,137.34 C521.79,137.34 522.67,138.30 523.55,138.66 C524.87,139.20 526.19,139.77 527.51,139.98 C529.27,140.26 531.03,140.51 532.79,140.51 C537.20,140.51 541.60,140.51 546.00,140.51" stroke="#ec4040" stroke-opacity="0.85" stroke-width="1.2"/>
<path d="M34.00,239.62 C35.76,239.80 37.52,240.15 39.28,240.15 C40.60,240.15 41.92,239.62 43.24,239.62 C43.86,239.62 44.48,241.47 45.09,241.47 C45.80,241.47 46.50,239.50 47.21,239.09 C47.65,238.84 48.09,238.57 48.53,238.57 C48.97,238.57 49.41,240.15 49.85,240.15 C51.61,240.15 53.37,240.15 55.13,240.15 C55.57,240.15 56.01,235.86 56.45,233.02 C56.89,230.18 57.33,224.18 57.77,222.45 C58.21,220.73 58.65,219.02 59.09,219.02 C59.44,219.02 59.79,221.35 60.15,223.77 C60.41,225.59 60.67,232.24 60.94,234.34 C61.29,237.14 61.64,240.11 61.99,240.15 C64.11,240.38 66.22,240.31 68.33,240.42 C71.41,240.56 74.50,240.94 77.58,240.94 C78.19,240.94 78.81,239.62 79.43,239.62 C79.95,239.62 80.48,241.47 81.01,241.47 C81.63,241.47 82.24,240.15 82.86,240.15 C84.18,240.15 85.50,240.15 86.82,240.15 C87.26,240.15 87.70,239.62 88.14,239.62 C88.41,239.62 88.67,243.97 88.93,246.23 C89.29,249.23 89.64,255.47 89.99,255.47 C90.34,255.47 90.69,249.66 91.05,247.55 C91.40,245.43 91.75,242.26 92.10,242.26 C92.37,242.26 92.63,243.77 92.89,244.91 C93.25,246.42 93.60,251.51 93.95,251.51 C94.30,251.51 94.66,249.35 95.01,247.55 C95.36,245.75 95.71,239.50 96.06,239.09 C96.50,238.59 96.94,238.54 97.38,238.30 C98.71,237.59 100.03,237.25 101.35,236.45 C102.67,235.65 103.99,233.89 105.31,233.02 C106.63,232.15 107.95,230.91 109.27,230.91 C110.15,230.91 111.03,231.59 111.91,232.23 C112.79,232.86 113.67,234.43 114.55,235.66 C115.43,236.89 116.31,238.96 117.19,239.62 C118.07,240.28 118.95,240.88 119.83,240.94 C125.56,241.37 131.28,241.30 137.00,241.47" stroke="#111" stroke-width="1.3"/>
<path d="M136.00,240.94 C137.76,240.50 139.52,240.13 141.28,239.62 C142.60,239.24 143.92,238.63 145.24,238.30 C146.12,238.09 147.00,237.77 147.88,237.77 C148.76,237.77 149.65,238.84 150.53,239.09 C151.41,239.35 152.29,239.39 153.17,239.62 C154.31,239.92 155.46,240.12 156.60,240.94 C157.04,241.26 157.48,242.42 157.92,243.58 C158.27,244.51 158.62,247.55 158.98,247.55 C159.24,247.55 159.51,240.15 159.77,238.30 C160.03,236.45 160.30,234.34 160.56,234.34 C160.83,234.34 161.09,242.05 161.35,243.58 C161.71,245.63 162.06,247.55 162.41,247.55 C162.85,247.55 163.29,241.27 163.73,240.94 C165.05,239.98 166.37,239.78 167.69,239.62 C170.33,239.31 172.97,239.09 175.62,239.09 C176.50,239.09 177.38,239.32 178.26,239.62 C178.96,239.86 179.66,241.74 180.37,241.74 C180.99,241.74 181.60,239.98 182.22,239.62 C182.66,239.37 183.10,239.09 183.54,239.09 C184.86,239.09 186.18,239.53 187.50,240.15 C188.12,240.44 188.73,241.08 189.35,242.26 C189.79,243.11 190.23,248.87 190.67,248.87 C191.11,248.87 191.55,226.49 191.99,221.13 C192.34,216.85 192.69,211.89 193.05,211.89 C193.40,211.89 193.75,217.41 194.10,219.81 C194.45,222.21 194.81,226.18 195.16,226.42 C195.69,226.77 196.22,226.61 196.74,226.94 C197.18,227.22 197.62,230.99 198.06,233.02 C198.50,235.04 198.94,238.74 199.38,239.09 C200.26,239.81 201.15,239.75 202.03,240.15 C203.35,240.75 204.67,241.29 205.99,242.26 C207.13,243.11 208.28,244.95 209.42,246.23 C210.48,247.41 211.53,249.66 212.59,249.66 C213.47,249.66 214.35,248.52 215.23,247.55 C216.11,246.57 216.99,243.92 217.87,242.79 C218.75,241.66 219.63,240.47 220.51,240.15 C222.27,239.52 224.03,239.27 225.79,239.09 C230.20,238.65 234.60,238.57 239.00,238.30" stroke="#111" stroke-width="1.25"/>
<path d="M136.00,240.94 C137.76,240.50 139.52,240.13 141.28,239.62 C142.60,239.24 143.92,238.63 145.24,238.30 C146.12,238.09 147.00,237.77 147.88,237.77 C148.76,237.77 149.65,238.84 150.53,239.09 C151.41,239.35 152.29,239.39 153.17,239.62 C154.31,239.92 155.46,240.08 156.60,240.94 C157.04,241.27 157.48,242.94 157.92,244.38 C158.27,245.52 158.62,248.87 158.98,248.87 C159.24,248.87 159.51,241.20 159.77,239.62 C160.03,238.05 160.30,236.45 160.56,236.45 C160.83,236.45 161.09,242.98 161.35,244.38 C161.71,246.25 162.06,248.08 162.41,248.08 C162.85,248.08 163.29,241.27 163.73,240.94 C165.05,239.97 166.37,239.78 167.69,239.62 C170.33,239.31 172.97,239.09 175.62,239.09 C176.50,239.09 177.38,239.81 178.26,240.15 C178.96,240.42 179.66,240.94 180.37,240.94 C180.99,240.94 181.60,240.41 182.22,240.15 C182.66,239.97 183.10,239.62 183.54,239.62 C184.86,239.62 186.18,239.80 187.50,240.15 C188.12,240.31 188.73,241.16 189.35,242.26 C189.79,243.05 190.23,247.02 190.67,247.02 C191.11,247.02 191.55,225.14 191.99,219.81 C192.34,215.55 192.69,210.57 193.05,210.57 C193.40,210.57 193.75,216.97 194.10,219.81 C194.45,222.66 194.81,227.39 195.16,227.74 C195.69,228.26 196.22,228.05 196.74,228.53 C197.18,228.93 197.62,231.97 198.06,233.81 C198.50,235.66 198.94,239.19 199.38,239.62 C200.26,240.49 201.15,240.49 202.03,240.94 C203.35,241.62 204.67,242.08 205.99,243.06 C207.13,243.90 208.28,245.64 209.42,247.02 C210.48,248.29 211.53,250.98 212.59,250.98 C213.47,250.98 214.35,249.87 215.23,248.87 C216.11,247.86 216.99,244.91 217.87,243.58 C218.75,242.26 219.63,240.81 220.51,240.42 C222.27,239.63 224.03,239.28 225.79,239.09 C230.20,238.63 234.60,238.57 239.00,238.30" stroke="#ec4040" stroke-opacity="0.85" stroke-width="1.2"/>
<path d="M239.00,240.15 C241.20,239.97 243.40,239.96 245.60,239.62 C246.75,239.45 247.89,237.85 249.04,237.51 C249.92,237.25 250.80,236.98 251.68,236.98 C252.56,236.98 253.44,237.90 254.32,238.30 C255.37,238.78 256.43,238.99 257.49,239.62 C258.37,240.15 259.25,242.26 260.13,242.26 C260.57,242.26 261.01,237.60 261.45,234.34 C261.80,231.73 262.15,224.30 262.51,224.30 C262.86,224.30 263.21,233.42 263.56,236.98 C263.91,240.55 264.27,246.23 264.62,246.23 C265.06,246.23 265.50,241.16 265.94,240.94 C267.08,240.37 268.23,240.15 269.37,240.15 C272.89,240.15 276.41,240.15 279.94,240.15 C281.26,240.15 282.58,239.61 283.90,239.09 C284.60,238.82 285.31,237.77 286.01,237.77 C286.63,237.77 287.24,239.01 287.86,239.62 C288.74,240.50 289.62,240.92 290.50,242.26 C291.12,243.20 291.73,247.55 292.35,247.55 C292.79,247.55 293.23,232.57 293.67,226.42 C294.02,221.49 294.37,213.21 294.73,213.21 C295.08,213.21 295.43,222.03 295.78,225.09 C296.22,228.93 296.66,234.34 297.10,234.34 C297.81,234.34 298.51,231.70 299.22,231.70 C299.66,231.70 300.10,236.31 300.54,236.98 C301.59,238.58 302.65,239.20 303.71,239.62 C305.47,240.33 307.23,240.26 308.99,240.94 C310.75,241.62 312.51,245.43 314.27,245.43 C315.15,245.43 316.03,245.19 316.91,244.91 C318.23,244.48 319.55,241.49 320.87,240.94 C322.63,240.22 324.39,239.79 326.15,239.62 C331.44,239.13 336.72,239.09 342.00,238.83" stroke="#111" stroke-width="1.25"/>
<path d="M239.00,240.15 C241.20,239.97 243.40,239.96 245.60,239.62 C246.75,239.45 247.89,238.10 249.04,237.77 C249.92,237.52 250.80,237.25 251.68,237.25 C252.56,237.25 253.44,238.21 254.32,238.57 C255.37,238.99 256.43,239.12 257.49,239.62 C258.37,240.04 259.25,241.74 260.13,241.74 C260.57,241.74 261.01,237.37 261.45,234.34 C261.80,231.91 262.15,225.09 262.51,225.09 C262.86,225.09 263.21,233.81 263.56,236.98 C263.91,240.15 264.27,244.91 264.62,244.91 C265.06,244.91 265.50,241.16 265.94,240.94 C267.08,240.38 268.23,240.15 269.37,240.15 C272.89,240.15 276.41,240.15 279.94,240.15 C281.26,240.15 282.58,239.90 283.90,239.62 C284.60,239.48 285.31,238.83 286.01,238.83 C286.63,238.83 287.24,239.69 287.86,240.15 C288.74,240.81 289.62,241.16 290.50,242.26 C291.12,243.04 291.73,247.02 292.35,247.02 C292.79,247.02 293.23,232.36 293.67,226.42 C294.02,221.66 294.37,213.74 294.73,213.74 C295.08,213.74 295.43,222.19 295.78,225.09 C296.22,228.73 296.66,233.81 297.10,233.81 C297.81,233.81 298.51,232.23 299.22,232.23 C299.66,232.23 300.10,236.84 300.54,237.51 C301.59,239.11 302.65,239.67 303.71,240.15 C305.47,240.96 307.23,240.95 308.99,241.74 C310.75,242.52 312.51,246.23 314.27,246.23 C315.15,246.23 316.03,245.83 316.91,245.43 C318.23,244.84 319.55,241.84 320.87,241.21 C322.63,240.36 324.39,239.79 326.15,239.62 C331.44,239.11 336.72,239.09 342.00,238.83" stroke="#ec4040" stroke-opacity="0.85" stroke-width="1.2"/>
<path d="M341.00,238.83 C342.41,239.01 343.82,239.36 345.23,239.36 C346.37,239.36 347.51,238.32 348.66,237.77 C349.36,237.43 350.07,236.72 350.77,236.72 C351.48,236.72 352.18,239.00 352.88,239.36 C353.41,239.63 353.94,239.89 354.47,239.89 C355.00,239.89 355.53,238.57 356.05,238.57 C357.20,238.57 358.34,238.83 359.49,238.83 C360.19,238.83 360.90,237.69 361.60,236.72 C361.95,236.23 362.30,234.60 362.66,234.60 C362.92,234.60 363.18,238.26 363.45,240.94 C363.80,244.53 364.15,251.32 364.51,256.26 C364.77,259.98 365.03,267.09 365.30,267.09 C365.65,267.09 366.00,260.20 366.35,256.26 C366.71,252.33 367.06,244.29 367.41,243.32 C368.03,241.62 368.64,241.02 369.26,240.68 C370.67,239.89 372.08,239.78 373.48,239.36 C375.33,238.81 377.18,238.54 379.03,237.77 C380.09,237.33 381.14,236.53 382.20,235.66 C383.26,234.79 384.31,233.00 385.37,232.23 C385.99,231.78 386.60,231.17 387.22,231.17 C387.75,231.17 388.27,232.70 388.80,233.55 C389.24,234.25 389.68,235.37 390.12,235.79 C390.95,236.58 391.78,237.32 392.61,237.32 C393.18,237.32 393.75,236.67 394.32,235.79 C394.90,234.90 395.48,231.15 396.07,226.05 C396.36,223.49 396.65,211.94 396.94,211.94 C397.23,211.94 397.52,220.86 397.81,226.05 C398.10,231.23 398.39,240.52 398.68,243.40 C398.89,245.50 399.10,247.73 399.31,247.73 C399.60,247.73 399.89,240.12 400.19,240.12 C400.41,240.12 400.63,242.32 400.85,242.32 C401.21,242.32 401.57,241.21 401.93,241.21 C402.43,241.21 402.93,242.10 403.43,242.32 C404.74,242.88 406.04,243.06 407.34,243.40 C408.79,243.78 410.23,244.07 411.67,244.48 C412.77,244.80 413.86,245.57 414.95,245.57 C416.03,245.57 417.11,245.04 418.20,244.48 C419.64,243.74 421.08,239.91 422.53,239.04 C423.97,238.17 425.42,237.32 426.86,237.32 C429.03,237.32 431.21,237.32 433.38,237.32 C436.92,237.32 440.46,237.03 444.00,236.88" stroke="#111" stroke-width="1.25"/>
<path d="M341.00,238.30 C342.41,238.48 343.82,238.83 345.23,238.83 C346.72,238.83 348.22,236.72 349.72,236.72 C350.42,236.72 351.12,236.94 351.83,237.25 C352.53,237.55 353.24,240.40 353.94,240.68 C354.29,240.82 354.65,240.94 355.00,240.94 C355.79,240.94 356.58,238.49 357.37,238.30 C358.78,237.96 360.19,237.77 361.60,237.77 C361.95,237.77 362.30,238.69 362.66,239.89 C363.01,241.08 363.36,247.60 363.71,251.77 C364.06,255.94 364.42,260.49 364.77,264.98 C365.03,268.35 365.30,275.28 365.56,275.28 C365.91,275.28 366.27,269.30 366.62,264.98 C366.97,260.66 367.32,250.28 367.67,247.55 C368.20,243.45 368.73,240.18 369.26,239.89 C370.67,239.11 372.08,239.25 373.48,238.83 C375.33,238.28 377.18,237.44 379.03,236.72 C379.91,236.37 380.79,235.66 381.67,235.66 C382.20,235.66 382.73,236.72 383.26,237.25 C383.96,237.95 384.66,239.36 385.37,239.36 C386.16,239.36 386.95,236.19 387.75,235.66 C388.49,235.16 389.24,234.71 389.99,234.71 C391.07,234.71 392.16,235.13 393.24,235.13 C393.75,235.13 394.26,234.59 394.77,233.63 C395.20,232.81 395.63,221.83 396.07,215.19 C396.29,211.80 396.51,204.33 396.73,204.33 C397.09,204.33 397.45,214.12 397.81,221.69 C398.02,226.12 398.23,239.62 398.44,239.62 C398.62,239.62 398.79,236.18 398.97,234.34 C399.15,232.49 399.32,228.53 399.50,228.53 C399.72,228.53 399.94,230.12 400.16,231.17 C400.47,232.64 400.78,235.38 401.08,236.80 C401.88,240.48 402.69,243.73 403.49,245.09 C405.41,248.37 407.34,249.35 409.27,250.98 C410.87,252.34 412.47,254.49 414.08,254.49 C415.64,254.49 417.21,251.22 418.78,248.60 C420.35,245.98 421.91,237.48 423.48,236.80 C425.85,235.77 428.22,235.21 430.58,235.21 C433.72,235.21 436.85,235.37 439.99,235.61 C441.32,235.71 442.66,236.17 444.00,236.45" stroke="#ec4040" stroke-opacity="0.85" stroke-width="1.2"/>
<path d="M443.00,240.15 C445.64,239.97 448.28,239.87 450.92,239.62 C452.24,239.50 453.56,239.41 454.88,239.09 C455.76,238.88 456.65,236.98 457.53,236.98 C458.14,236.98 458.76,237.98 459.37,238.30 C460.52,238.89 461.66,239.03 462.81,239.62 C463.42,239.94 464.04,240.94 464.66,240.94 C465.01,240.94 465.36,232.00 465.71,226.42 C466.06,220.83 466.42,206.60 466.77,206.60 C467.12,206.60 467.47,220.55 467.83,226.42 C468.18,232.29 468.53,242.26 468.88,242.26 C469.32,242.26 469.76,240.94 470.20,240.94 C472.58,240.94 474.96,240.94 477.33,240.94 C479.97,240.94 482.62,242.26 485.26,242.26 C486.31,242.26 487.37,240.37 488.43,239.62 C489.13,239.12 489.83,238.30 490.54,238.30 C491.86,238.30 493.18,238.90 494.50,239.62 C494.94,239.86 495.38,240.94 495.82,240.94 C496.26,240.94 496.70,235.35 497.14,231.70 C497.49,228.78 497.85,221.13 498.20,221.13 C498.55,221.13 498.90,230.88 499.25,234.34 C499.69,238.67 500.13,242.22 500.57,244.91 C500.93,247.05 501.28,250.19 501.63,250.19 C502.07,250.19 502.51,244.51 502.95,243.58 C503.66,242.11 504.36,241.22 505.06,240.94 C507.26,240.08 509.47,240.22 511.67,239.62 C513.43,239.15 515.19,238.33 516.95,237.51 C518.09,236.98 519.24,235.66 520.38,235.66 C521.44,235.66 522.49,236.44 523.55,236.98 C524.87,237.65 526.19,239.38 527.51,239.62 C529.27,239.94 531.03,240.15 532.79,240.15 C537.20,240.15 541.60,240.15 546.00,240.15" stroke="#111" stroke-width="1.25"/>
<path d="M443.00,240.15 C445.64,239.97 448.28,239.87 450.92,239.62 C452.24,239.50 453.56,239.40 454.88,239.09 C455.76,238.89 456.65,237.51 457.53,237.51 C458.14,237.51 458.76,238.31 459.37,238.57 C460.52,239.04 461.66,239.11 462.81,239.62 C463.42,239.90 464.04,240.94 464.66,240.94 C465.01,240.94 465.36,231.91 465.71,226.42 C466.06,220.92 466.42,207.40 466.77,207.40 C467.12,207.40 467.47,220.76 467.83,226.42 C468.18,232.07 468.53,241.74 468.88,241.74 C469.32,241.74 469.76,240.94 470.20,240.94 C472.58,240.94 474.96,240.94 477.33,240.94 C479.97,240.94 482.62,241.74 485.26,241.74 C486.31,241.74 487.37,240.00 488.43,239.62 C489.13,239.37 489.83,239.09 490.54,239.09 C491.86,239.09 493.18,239.27 494.50,239.62 C494.94,239.74 495.38,240.94 495.82,240.94 C496.26,240.94 496.70,235.14 497.14,231.70 C497.49,228.95 497.85,222.45 498.20,222.45 C498.55,222.45 498.90,231.12 499.25,234.34 C499.69,238.36 500.13,242.00 500.57,244.38 C500.93,246.28 501.28,248.87 501.63,248.87 C502.07,248.87 502.51,244.46 502.95,243.58 C503.66,242.19 504.36,241.22 505.06,240.94 C507.26,240.08 509.47,240.22 511.67,239.62 C513.43,239.15 515.19,238.33 516.95,237.51 C518.09,236.98 519.24,235.66 520.38,235.66 C521.44,235.66 522.49,236.44 523.55,236.98 C524.87,237.65 526.19,239.38 527.51,239.62 C529.27,239.94 531.03,240.15 532.79,240.15 C537.20,240.15 541.60,240.15 546.00,240.15" stroke="#ec4040" stroke-opacity="0.85" stroke-width="1.2"/>
</g>
<g stroke="#5a5a5a" stroke-width="1.15" fill="none">
<line x1="34.5" y1="6.2" x2="34.5" y2="88.5"/>
<line x1="32.5" y1="83.12" x2="34.5" y2="83.12"/>
<line x1="33.3" y1="77.20" x2="34.5" y2="77.20"/>
<line x1="32.5" y1="71.28" x2="34.5" y2="71.28"/>
<line x1="33.3" y1="65.36" x2="34.5" y2="65.36"/>
<line x1="32.5" y1="59.44" x2="34.5" y2="59.44"/>
<line x1="33.3" y1="53.52" x2="34.5" y2="53.52"/>
<line x1="32.5" y1="47.60" x2="34.5" y2="47.60"/>
<line x1="33.3" y1="41.68" x2="34.5" y2="41.68"/>
<line x1="32.5" y1="35.76" x2="34.5" y2="35.76"/>
<line x1="33.3" y1="29.84" x2="34.5" y2="29.84"/>
<line x1="32.5" y1="23.92" x2="34.5" y2="23.92"/>
<line x1="33.3" y1="18.00" x2="34.5" y2="18.00"/>
<line x1="32.5" y1="12.08" x2="34.5" y2="12.08"/>
<line x1="34.5" y1="103.3" x2="34.5" y2="187.0"/>
<line x1="32.5" y1="185.70" x2="34.5" y2="185.70"/>
<line x1="33.3" y1="181.17" x2="34.5" y2="181.17"/>
<line x1="32.5" y1="176.64" x2="34.5" y2="176.64"/>
<line x1="33.3" y1="172.11" x2="34.5" y2="172.11"/>
<line x1="32.5" y1="167.58" x2="34.5" y2="167.58"/>
<line x1="33.3" y1="163.05" x2="34.5" y2="163.05"/>
<line x1="32.5" y1="158.52" x2="34.5" y2="158.52"/>
<line x1="33.3" y1="153.99" x2="34.5" y2="153.99"/>
<line x1="32.5" y1="149.46" x2="34.5" y2="149.46"/>
<line x1="33.3" y1="144.93" x2="34.5" y2="144.93"/>
<line x1="32.5" y1="140.40" x2="34.5" y2="140.40"/>
<line x1="33.3" y1="135.87" x2="34.5" y2="135.87"/>
<line x1="32.5" y1="131.34" x2="34.5" y2="131.34"/>
<line x1="33.3" y1="126.81" x2="34.5" y2="126.81"/>
<line x1="32.5" y1="122.28" x2="34.5" y2="122.28"/>
<line x1="33.3" y1="117.75" x2="34.5" y2="117.75"/>
<line x1="32.5" y1="113.22" x2="34.5" y2="113.22"/>
<line x1="33.3" y1="108.69" x2="34.5" y2="108.69"/>
<line x1="32.5" y1="104.16" x2="34.5" y2="104.16"/>
<line x1="34.5" y1="200.5" x2="34.5" y2="283.3"/>
<line x1="32.5" y1="283.74" x2="34.5" y2="283.74"/>
<line x1="33.3" y1="278.21" x2="34.5" y2="278.21"/>
<line x1="32.5" y1="272.68" x2="34.5" y2="272.68"/>
<line x1="33.3" y1="267.15" x2="34.5" y2="267.15"/>
<line x1="32.5" y1="261.62" x2="34.5" y2="261.62"/>
<line x1="33.3" y1="256.09" x2="34.5" y2="256.09"/>
<line x1="32.5" y1="250.56" x2="34.5" y2="250.56"/>
<line x1="33.3" y1="245.03" x2="34.5" y2="245.03"/>
<line x1="32.5" y1="239.50" x2="34.5" y2="239.50"/>
<line x1="33.3" y1="233.97" x2="34.5" y2="233.97"/>
<line x1="32.5" y1="228.44" x2="34.5" y2="228.44"/>
<line x1="33.3" y1="222.91" x2="34.5" y2="222.91"/>
<line x1="32.5" y1="217.38" x2="34.5" y2="217.38"/>
<line x1="33.3" y1="211.85" x2="34.5" y2="211.85"/>
<line x1="32.5" y1="206.32" x2="34.5" y2="206.32"/>
<line x1="34.5" y1="283.3" x2="545.5" y2="283.3"/>
<line x1="34.50" y1="283.3" x2="34.50" y2="285.3"/>
<line x1="54.95" y1="283.3" x2="54.95" y2="284.6"/>
<line x1="75.40" y1="283.3" x2="75.40" y2="285.3"/>
<line x1="95.85" y1="283.3" x2="95.85" y2="284.6"/>
<line x1="116.30" y1="283.3" x2="116.30" y2="285.3"/>
<line x1="136.70" y1="283.3" x2="136.70" y2="285.3"/>
<line x1="157.15" y1="283.3" x2="157.15" y2="284.6"/>
<line x1="177.60" y1="283.3" x2="177.60" y2="285.3"/>
<line x1="198.05" y1="283.3" x2="198.05" y2="284.6"/>
<line x1="218.50" y1="283.3" x2="218.50" y2="285.3"/>
<line x1="239.10" y1="283.3" x2="239.10" y2="285.3"/>
<line x1="259.55" y1="283.3" x2="259.55" y2="284.6"/>
<line x1="280.00" y1="283.3" x2="280.00" y2="285.3"/>
<line x1="300.45" y1="283.3" x2="300.45" y2="284.6"/>
<line x1="320.90" y1="283.3" x2="320.90" y2="285.3"/>
<line x1="341.00" y1="283.3" x2="341.00" y2="285.3"/>
<line x1="361.45" y1="283.3" x2="361.45" y2="284.6"/>
<line x1="381.90" y1="283.3" x2="381.90" y2="285.3"/>
<line x1="402.35" y1="283.3" x2="402.35" y2="284.6"/>
<line x1="422.80" y1="283.3" x2="422.80" y2="285.3"/>
<line x1="443.30" y1="283.3" x2="443.30" y2="285.3"/>
<line x1="463.75" y1="283.3" x2="463.75" y2="284.6"/>
<line x1="484.20" y1="283.3" x2="484.20" y2="285.3"/>
<line x1="504.65" y1="283.3" x2="504.65" y2="284.6"/>
<line x1="525.10" y1="283.3" x2="525.10" y2="285.3"/>
</g>
<text class="tk" transform="translate(31.60,15.48) scale(1,1.0)" text-anchor="end">1.2</text>
<text class="tk" transform="translate(31.60,27.32) scale(1,1.0)" text-anchor="end">0.8</text>
<text class="tk" transform="translate(31.60,39.16) scale(1,1.0)" text-anchor="end">0.4</text>
<text class="tk" transform="translate(31.60,51.00) scale(1,1.0)" text-anchor="end">0.0</text>
<text class="tk" transform="translate(31.60,62.84) scale(1,1.0)" text-anchor="end">-0.4</text>
<text class="tk" transform="translate(31.60,74.68) scale(1,1.0)" text-anchor="end">-0.8</text>
<text class="tk" transform="translate(31.60,86.52) scale(1,1.0)" text-anchor="end">-1.2</text>
<text class="tk" transform="translate(31.60,107.56) scale(1,1.0)" text-anchor="end">1.6</text>
<text class="tk" transform="translate(31.60,116.62) scale(1,1.0)" text-anchor="end">1.2</text>
<text class="tk" transform="translate(31.60,125.68) scale(1,1.0)" text-anchor="end">0.8</text>
<text class="tk" transform="translate(31.60,134.74) scale(1,1.0)" text-anchor="end">0.4</text>
<text class="tk" transform="translate(31.60,143.80) scale(1,1.0)" text-anchor="end">0.0</text>
<text class="tk" transform="translate(31.60,152.86) scale(1,1.0)" text-anchor="end">-0.4</text>
<text class="tk" transform="translate(31.60,161.92) scale(1,1.0)" text-anchor="end">-0.8</text>
<text class="tk" transform="translate(31.60,170.98) scale(1,1.0)" text-anchor="end">-1.2</text>
<text class="tk" transform="translate(31.60,180.04) scale(1,1.0)" text-anchor="end">-1.6</text>
<text class="tk" transform="translate(31.60,189.10) scale(1,1.0)" text-anchor="end">-2.0</text>
<text class="tk" transform="translate(31.60,209.72) scale(1,1.0)" text-anchor="end">1.2</text>
<text class="tk" transform="translate(31.60,220.78) scale(1,1.0)" text-anchor="end">0.8</text>
<text class="tk" transform="translate(31.60,231.84) scale(1,1.0)" text-anchor="end">0.4</text>
<text class="tk" transform="translate(31.60,242.90) scale(1,1.0)" text-anchor="end">0.0</text>
<text class="tk" transform="translate(31.60,253.96) scale(1,1.0)" text-anchor="end">-0.4</text>
<text class="tk" transform="translate(31.60,265.02) scale(1,1.0)" text-anchor="end">-0.8</text>
<text class="tk" transform="translate(31.60,276.08) scale(1,1.0)" text-anchor="end">-1.2</text>
<text class="tk" transform="translate(31.60,287.14) scale(1,1.0)" text-anchor="end">-1.6</text>
<text class="tk" transform="translate(34.50,293.60) scale(1,1.0)" text-anchor="middle">0</text>
<text class="tk" transform="translate(75.40,293.60) scale(1,1.0)" text-anchor="middle">0.5</text>
<text class="tk" transform="translate(116.30,293.60) scale(1,1.0)" text-anchor="middle">1</text>
<text class="tk" transform="translate(136.70,293.60) scale(1,1.0)" text-anchor="middle">0</text>
<text class="tk" transform="translate(177.60,293.60) scale(1,1.0)" text-anchor="middle">0.5</text>
<text class="tk" transform="translate(218.50,293.60) scale(1,1.0)" text-anchor="middle">1</text>
<text class="tk" transform="translate(239.10,293.60) scale(1,1.0)" text-anchor="middle">0</text>
<text class="tk" transform="translate(280.00,293.60) scale(1,1.0)" text-anchor="middle">0.5</text>
<text class="tk" transform="translate(320.90,293.60) scale(1,1.0)" text-anchor="middle">1</text>
<text class="tk" transform="translate(341.00,293.60) scale(1,1.0)" text-anchor="middle">0</text>
<text class="tk" transform="translate(381.90,293.60) scale(1,1.0)" text-anchor="middle">0.5</text>
<text class="tk" transform="translate(422.80,293.60) scale(1,1.0)" text-anchor="middle">1</text>
<text class="tk" transform="translate(443.30,293.60) scale(1,1.0)" text-anchor="middle">0</text>
<text class="tk" transform="translate(484.20,293.60) scale(1,1.0)" text-anchor="middle">0.5</text>
<text class="tk" transform="translate(525.10,293.60) scale(1,1.0)" text-anchor="middle">1</text>
<text class="lab" transform="translate(39.30,14.70) scale(1,1.0)">X</text>
<text class="lab" transform="translate(141.70,14.60) scale(1,1.0)">I</text>
<text class="lab" transform="translate(237.50,14.60) scale(1,1.0)" text-anchor="end">Pr=0.9071</text>
<text class="lab" transform="translate(244.10,14.60) scale(1,1.0)">aVR</text>
<text class="lab" transform="translate(339.40,14.60) scale(1,1.0)" text-anchor="end">Pr=0.9575</text>
<text class="lab" transform="translate(346.00,14.60) scale(1,1.0)">V1</text>
<text class="lab" transform="translate(441.70,14.60) scale(1,1.0)" text-anchor="end">Pr=0.9679</text>
<text class="lab" transform="translate(448.30,14.60) scale(1,1.0)">V4</text>
<text class="lab" transform="translate(543.90,14.60) scale(1,1.0)" text-anchor="end">Pr=0.9420</text>
<text class="lab" transform="translate(39.30,113.00) scale(1,1.0)">Y</text>
<text class="lab" transform="translate(141.70,112.80) scale(1,1.0)">II</text>
<text class="lab" transform="translate(237.50,112.80) scale(1,1.0)" text-anchor="end">Pr=0.9878</text>
<text class="lab" transform="translate(244.10,112.80) scale(1,1.0)">aVL</text>
<text class="lab" transform="translate(339.40,112.80) scale(1,1.0)" text-anchor="end">Pr=0.9612</text>
<text class="lab" transform="translate(346.00,112.80) scale(1,1.0)">V2</text>
<text class="lab" transform="translate(441.70,112.80) scale(1,1.0)" text-anchor="end">Pr=0.8789</text>
<text class="lab" transform="translate(448.30,112.80) scale(1,1.0)">V5</text>
<text class="lab" transform="translate(543.90,112.80) scale(1,1.0)" text-anchor="end">Pr=0.9808</text>
<text class="lab" transform="translate(39.30,213.90) scale(1,1.0)">Z</text>
<text class="lab" transform="translate(141.70,208.80) scale(1,1.0)">III</text>
<text class="lab" transform="translate(237.50,208.80) scale(1,1.0)" text-anchor="end">Pr=0.9552</text>
<text class="lab" transform="translate(244.10,208.80) scale(1,1.0)">aVF</text>
<text class="lab" transform="translate(339.40,208.80) scale(1,1.0)" text-anchor="end">Pr=0.9880</text>
<text class="lab" transform="translate(346.00,208.80) scale(1,1.0)">V3</text>
<text class="lab" transform="translate(441.70,208.80) scale(1,1.0)" text-anchor="end">Pr=0.9018</text>
<text class="lab" transform="translate(448.30,208.80) scale(1,1.0)">V6</text>
<text class="lab" transform="translate(543.90,208.80) scale(1,1.0)" text-anchor="end">Pr=0.9942</text>
<text class="ax" style="font-size:13.9px" transform="translate(13.5,145.4) rotate(-90)" text-anchor="middle">Amplitude (mV)</text>
<line x1="116.2" y1="308.2" x2="130" y2="308.2" stroke="#000" stroke-width="1.6"/>
<text class="lab" transform="translate(137.00,312.30) scale(1,1.0)">Recorded</text>
<text class="ax" transform="translate(268.30,312.30) scale(1,1.0)">Time(s)</text>
<line x1="370.4" y1="308.6" x2="384.2" y2="308.6" stroke="#f06a6a" stroke-width="1.3"/>
<text class="lab" style="font-size:13.85px" transform="translate(391.00,312.30) scale(1,1.0)">M2Eformer-reconstructed</text>
</svg>
</body></html>
